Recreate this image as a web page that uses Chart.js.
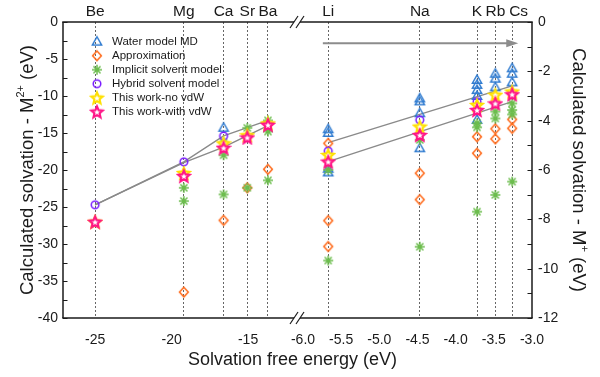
<!DOCTYPE html>
<html><head><meta charset="utf-8">
<style>html,body{margin:0;padding:0;background:#fff;}canvas{display:block;}</style>
<script src="https://cdn.jsdelivr.net/npm/chart.js"></script>
</head><body>
<canvas id="c" width="600" height="377"></canvas>
<script>
// ---------------- data ----------------
const divalentIons = ['Be', 'Mg', 'Ca', 'Sr', 'Ba'];
const divalentX = [-25.0, -19.2, -16.6, -15.05, -13.7];      // solvation free energy (eV)
const monovalentIons = ['Li', 'Na', 'K', 'Rb', 'Cs'];
const monovalentX = [-5.67, -4.47, -3.72, -3.48, -3.26];

const seriesLabels = ['Water model MD', 'Approximation', 'Implicit solvent model',
  'Hybrid solvent model', 'This work-no vdW', 'This work-with vdW'];

// M2+ values (left axis), one list per ion Be, Mg, Ca, Sr, Ba
const waterMD_M2   = [[], [], [-14.3], [], []];
const approx_M2    = [[], [-36.5], [-26.8], [-22.4], [-19.9]];
const implicit_M2  = [[], [-22.4, -24.2], [-16.3, -18.0, -23.3], [-14.3, -22.4], [-13.3, -14.8, -21.4]];
const hybrid_M2    = [[-24.7], [-18.9], [-15.4], [], []];
const noVdw_M2     = [[-27.0], [-20.4], [-16.4], [-15.3], [-13.7]];
const withVdw_M2   = [[-27.0], [-20.8], [-17.0], [-15.6], [-13.9]];

// M+ values (right axis), one list per ion Li, Na, K, Rb, Cs
const waterMD_M1   = [[-4.35, -4.5, -5.95, -6.1], [-3.1, -3.22, -3.7, -5.12], [-2.35, -2.55, -2.76, -3.0, -3.97], [-2.1, -2.3, -2.65], [-1.88, -2.1, -2.45]];
const approx_M1    = [[-4.92, -8.05, -9.1], [-6.13, -7.2], [-4.65, -5.32], [-4.33, -4.74], [-3.95, -4.31]];
const implicit_M1  = [[-6.0, -9.67], [-4.78, -9.11], [-4.1, -4.27, -7.69], [-3.63, -3.91, -7.01], [-3.3, -3.57, -3.75, -6.47]];
const hybrid_M1    = [[-5.23], [-3.97], [-3.23], [], []];
const noVdw_M1     = [[-5.39], [-4.24], [-3.36], [-2.95], [-2.82]];
const withVdw_M1   = [[-5.66], [-4.58], [-3.57], [-3.3], [-2.93]];

// grey guide lines
const guideM2X = [-25.0, -19.2, -16.6, -13.7];
const guideM2Upper = [-24.7, -18.9, -15.4, -13.3];
const guideM2Lower = [-24.7, -19.0, -16.9, -14.0];
const guideM1X = [-5.67, -3.26];
const guideM1Upper = [-4.89, -2.59];
const guideM1Lower = [-5.66, -3.23];

// arrow (data coords, right axis)
const arrowX = [-5.74, -3.18];
const arrowY = -0.86;

// ticks
const xTickValues = [-25, -20, -15, -6.0, -5.5, -5.0, -4.5, -4.0, -3.5, -3.0];
const xTickLabels = ['-25', '-20', '-15', '-6.0', '-5.5', '-5.0', '-4.5', '-4.0', '-3.5', '-3.0'];
const yLeftRange = [-40, 0, 5];
const yRightRange = [-12, 0, 2];

// ---------------- broken x scale ----------------
const seg = {l0: -27.1, l1: -11.8, r0: -6.0, r1: -3.0, uL1: 234, uR0: 240, uMax: 469};
function brokenDecimal(v) {
  let u;
  if (v <= -9) u = (v - seg.l0) / (seg.l1 - seg.l0) * seg.uL1;
  else u = seg.uR0 + (v - seg.r0) / (seg.r1 - seg.r0) * (seg.uMax - seg.uR0);
  return u / seg.uMax;
}
class BrokenLinearScale extends Chart.LinearScale {
  determineDataLimits() { this.min = seg.l0; this.max = seg.r1; }
  getPixelForValue(value) {
    if (value === null || value === undefined || isNaN(value)) return NaN;
    return this.getPixelForDecimal(brokenDecimal(value));
  }
}
BrokenLinearScale.id = 'brokenLinear';
Chart.register(BrokenLinearScale);

// ---------------- markers ----------------
const seriesStyles = [
  {kind: 'triangle', color: '#2f7bd0'},
  {kind: 'diamond', color: '#ff6a1a'},
  {kind: 'asterisk', color: '#6cbd4d'},
  {kind: 'circle', color: '#7a1cff'},
  {kind: 'star', color: '#ffe000'},
  {kind: 'star', color: '#ff1487'},
];
function makeMarker(kind, color) {
  const s = 16, c = document.createElement('canvas');
  c.width = s; c.height = s;
  const g = c.getContext('2d');
  g.translate(s / 2, s / 2);
  g.strokeStyle = color; g.lineWidth = 1.5; g.lineJoin = 'miter';
  g.beginPath();
  if (kind === 'triangle') {
    g.moveTo(0, -5); g.lineTo(4.6, 3.2); g.lineTo(-4.6, 3.2); g.closePath(); g.stroke();
  } else if (kind === 'diamond') {
    g.moveTo(0, -4.8); g.lineTo(4.4, 0); g.lineTo(0, 4.8); g.lineTo(-4.4, 0); g.closePath(); g.stroke();
  } else if (kind === 'asterisk') {
    const r = 5;
    for (let k = 0; k < 4; k++) {
      const a = k * Math.PI / 4;
      g.moveTo(-r * Math.cos(a), -r * Math.sin(a)); g.lineTo(r * Math.cos(a), r * Math.sin(a));
    }
    g.stroke();
  } else if (kind === 'circle') {
    g.arc(0, 0, 3.8, 0, Math.PI * 2); g.stroke();
  } else if (kind === 'star') {
    for (let k = 0; k < 10; k++) {
      const r = k % 2 ? 2.7 : 6.0, a = -Math.PI / 2 + k * Math.PI / 5;
      g.lineTo(r * Math.cos(a), r * Math.sin(a) + 0.6);
    }
    g.closePath(); g.fillStyle = '#fff'; g.fill(); g.lineWidth = 2.1; g.stroke();
  }
  return c;
}
const markers = seriesStyles.map(s => makeMarker(s.kind, s.color));

function pointsFor(xs, groups) {
  const out = [];
  groups.forEach((vals, i) => vals.forEach(v => out.push({x: xs[i], y: v})));
  return out;
}
function linePts(xs, ys) { return xs.map((x, i) => ({x: x, y: ys[i]})); }

const m2Series = [waterMD_M2, approx_M2, implicit_M2, hybrid_M2, noVdw_M2, withVdw_M2];
const m1Series = [waterMD_M1, approx_M1, implicit_M1, hybrid_M1, noVdw_M1, withVdw_M1];

const datasets = [];
const guideStyle = {showLine: true, pointRadius: 0, borderColor: '#8a8a8a', borderWidth: 1.4, fill: false, order: 20};
datasets.push(Object.assign({label: 'guide1', data: linePts(guideM2X, guideM2Upper), yAxisID: 'yL'}, guideStyle));
datasets.push(Object.assign({label: 'guide2', data: linePts(guideM2X, guideM2Lower), yAxisID: 'yL'}, guideStyle));
datasets.push(Object.assign({label: 'guide3', data: linePts(guideM1X, guideM1Upper), yAxisID: 'yR'}, guideStyle));
datasets.push(Object.assign({label: 'guide4', data: linePts(guideM1X, guideM1Lower), yAxisID: 'yR'}, guideStyle));
seriesLabels.forEach((lab, k) => {
  const common = {pointStyle: markers[k], pointRadius: 5, showLine: false, order: 10 - k};
  datasets.push(Object.assign({label: lab, data: pointsFor(divalentX, m2Series[k]), yAxisID: 'yL'}, common));
  datasets.push(Object.assign({label: lab + ' (M+)', data: pointsFor(monovalentX, m1Series[k]), yAxisID: 'yR'}, common));
});

// ---------------- decorations ----------------
const FONT = '"Liberation Sans", Arial, Helvetica, sans-serif';
function drawTitle(ctx, x, y, rot, base, sup, tail, size) {
  ctx.save();
  ctx.translate(x, y); ctx.rotate(rot);
  ctx.textBaseline = 'middle';
  ctx.font = size + 'px ' + FONT;
  const w1 = ctx.measureText(base).width, w3 = ctx.measureText(tail).width;
  ctx.font = Math.round(size * 0.62) + 'px ' + FONT;
  const w2 = sup ? ctx.measureText(sup).width : 0;
  let cx = -(w1 + w2 + w3) / 2;
  ctx.textAlign = 'left';
  ctx.font = size + 'px ' + FONT; ctx.fillText(base, cx, 0); cx += w1;
  if (sup) { ctx.font = Math.round(size * 0.62) + 'px ' + FONT; ctx.fillText(sup, cx, -size * 0.33); cx += w2; }
  ctx.font = size + 'px ' + FONT; if (tail) ctx.fillText(tail, cx, 0);
  ctx.restore();
}
const decor = {
  id: 'decor',
  afterDraw(chart) {
    const {ctx, chartArea: a, scales} = chart;
    const x = scales.x, yL = scales.yL, yR = scales.yR;
    const ln = (x1, y1, x2, y2) => { ctx.beginPath(); ctx.moveTo(x1, y1); ctx.lineTo(x2, y2); ctx.stroke(); };
    ctx.save();
    ctx.strokeStyle = '#1a1a1a'; ctx.lineWidth = 1;
    for (let v = yLeftRange[1]; v >= yLeftRange[0]; v -= yLeftRange[2] / 2) {
      const py = Math.round(yL.getPixelForValue(v)) + 0.5; ln(a.left, py, a.left + 4.5, py);
    }
    for (let v = yRightRange[1]; v >= yRightRange[0]; v -= yRightRange[2] / 2) {
      const py = Math.round(yR.getPixelForValue(v)) + 0.5; ln(a.right - 4.5, py, a.right, py);
    }
    // frame with axis breaks
    ctx.lineWidth = 1.5;
    ln(a.left, a.top, a.left, a.bottom);
    ln(a.right, a.top, a.right, a.bottom);
    const bx = (x.getPixelForValue(seg.l1) + x.getPixelForValue(seg.r0)) / 2;
    [a.top, a.bottom].forEach(yy => {
      ln(a.left - 0.75, yy, bx - 6, yy);
      ln(bx, yy, a.right + 0.75, yy);
      ctx.lineWidth = 1.2;
      ln(bx - 6 - 4, yy + 6, bx - 6 + 4, yy - 6);
      ln(bx - 4, yy + 6, bx + 4, yy - 6);
      ctx.lineWidth = 1.5;
    });
    // arrow
    const ax1 = x.getPixelForValue(arrowX[0]), ax2 = x.getPixelForValue(arrowX[1]);
    const ay = yR.getPixelForValue(arrowY);
    ctx.strokeStyle = '#8c8c8c'; ctx.fillStyle = '#8c8c8c'; ctx.lineWidth = 2;
    ln(ax1, ay, ax2 - 10, ay);
    ctx.beginPath(); ctx.moveTo(ax2, ay); ctx.lineTo(ax2 - 12, ay - 4); ctx.lineTo(ax2 - 12, ay + 4); ctx.closePath(); ctx.fill();
    // legend
    ctx.font = '11.5px ' + FONT; ctx.fillStyle = '#1a1a1a';
    ctx.textBaseline = 'middle'; ctx.textAlign = 'left';
    seriesLabels.forEach((lab, i) => {
      const cy = a.top + 19.7 + i * 14;
      const m = markers[i];
      ctx.drawImage(m, a.left + 34 - m.width / 2, cy - m.height / 2);
      ctx.fillText(lab, a.left + 49, cy + 0.5);
    });
    // axis titles
    ctx.fillStyle = '#1a1a1a';
    const cyT = (a.top + a.bottom) / 2;
    drawTitle(ctx, 27.5, cyT, -Math.PI / 2, 'Calculated solvation - M', '2+', ' (eV)', 18.5);
    drawTitle(ctx, 578, cyT, Math.PI / 2, 'Calculated solvation - M', '+', ' (eV)', 18.5);
    drawTitle(ctx, (a.left + a.right) / 2 - 5, a.bottom + 42, 0, 'Solvation free energy (eV)', '', '', 18);
    ctx.restore();
  }
};

Chart.defaults.font.family = FONT;
Chart.defaults.color = '#1a1a1a';

const topLabels = divalentIons.concat(monovalentIons);
new Chart(document.getElementById('c'), {
  type: 'scatter',
  data: {datasets: datasets},
  options: {
    responsive: false, animation: false, devicePixelRatio: 1, events: [],
    layout: {padding: 0},
    plugins: {legend: {display: false}, tooltip: {enabled: false}},
    scales: {
      x: {
        type: 'brokenLinear', position: 'bottom',
        afterBuildTicks: s => { s.ticks = xTickValues.map(v => ({value: v})); },
        afterFit: s => { s.height = 59; },
        ticks: {callback: (v, i) => xTickLabels[i], autoSkip: false, maxRotation: 0, padding: 6, font: {size: 14}},
        grid: {display: false}, border: {display: false}
      },
      xTop: {
        type: 'brokenLinear', position: 'top', axis: 'x',
        afterBuildTicks: s => { s.ticks = divalentX.concat(monovalentX).map(v => ({value: v})); },
        afterFit: s => { s.height = 22; },
        ticks: {callback: (v, i) => (i === topLabels.length - 1 ? '   ' : '') + topLabels[i],
                autoSkip: false, maxRotation: 0, padding: 0.5, font: {size: 15.5}},
        grid: {display: true, drawOnChartArea: true, drawTicks: false, color: '#666', lineWidth: 1},
        border: {display: false, dash: [2, 2]}
      },
      yL: {
        type: 'linear', position: 'left', min: yLeftRange[0], max: yLeftRange[1],
        afterFit: s => { s.width = 63; },
        ticks: {stepSize: yLeftRange[2], padding: 5, font: {size: 14}},
        grid: {display: false, drawTicks: false}, border: {display: false}
      },
      yR: {
        type: 'linear', position: 'right', min: yRightRange[0], max: yRightRange[1],
        afterFit: s => { s.width = 68; },
        ticks: {stepSize: yRightRange[2], padding: 6, font: {size: 14}},
        grid: {display: false, drawTicks: false}, border: {display: false}
      }
    }
  },
  plugins: [decor]
});
</script>
</body></html>
